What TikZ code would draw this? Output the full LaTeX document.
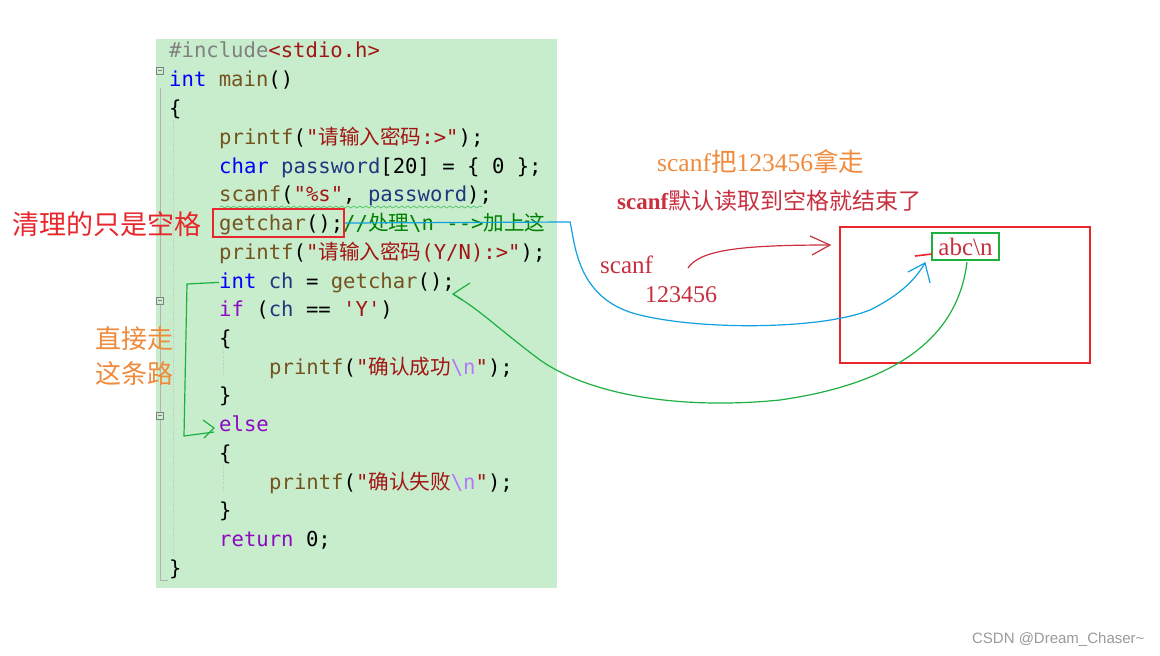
\documentclass[tikz,border=0pt]{standalone}
\usepackage{fontspec}
\setmainfont{Liberation Serif}
\newfontfamily\cjk{Noto Sans CJK SC}
\newfontfamily\mono{DejaVu Sans Mono}
\usetikzlibrary{decorations.pathmorphing,arrows.meta}
\definecolor{bg}{HTML}{C7EDCC}
\definecolor{kw}{HTML}{0000FF}
\definecolor{fn}{HTML}{74531F}
\definecolor{st}{HTML}{A31515}
\definecolor{vr}{HTML}{1F377F}
\definecolor{pk}{HTML}{8F08C4}
\definecolor{esc}{HTML}{B776FB}
\definecolor{cm}{HTML}{008000}
\definecolor{gy}{HTML}{808080}
\definecolor{rd}{HTML}{E8262B}
\definecolor{dr}{HTML}{C83040}
\definecolor{og}{HTML}{F08A3C}
\definecolor{gn}{HTML}{1DB040}
\definecolor{bl}{HTML}{10A0E0}
\newcommand\K[1]{\textcolor{kw}{#1}}
\newcommand\F[1]{\textcolor{fn}{#1}}
\newcommand\Sg[1]{\textcolor{st}{#1}}
\newcommand\V[1]{\textcolor{vr}{#1}}
\newcommand\Pk[1]{\textcolor{pk}{#1}}
\newcommand\E[1]{\textcolor{esc}{#1}}
\newcommand\Z[1]{{\cjk #1}}
\begin{document}
\begin{tikzpicture}[x=1pt,y=-1pt,
 code/.style={anchor=base west,inner sep=0pt,font=\mono\fontsize{20.6}{20}\selectfont},
 ann/.style={anchor=base west,inner sep=0pt},
 hand/.style={line width=1.2pt}]
\useasboundingbox (0,0) rectangle (1160,656);
\fill[white] (0,0) rectangle (1160,656);
\fill[bg] (156,39) rectangle (557,588);
\draw[gy!60,line width=0.8pt] (160,88) -- (160,580) -- (168,580);
\foreach \y in {79,309,424}{\fill[bg] (156.5,\y-12) rectangle (163.5,\y-5);\draw[gy,line width=0.6pt] (156.5,\y-12) rectangle (163.5,\y-5) (158,\y-8.5)--(162,\y-8.5);}
\draw[gy!50,dotted] (173,120) -- (173,555);
\draw[gy!50,dotted] (223,350) -- (223,376) (223,465) -- (223,492);
\node[code] (l1) at (169,57) {\textcolor{gy}{\#include}\Sg{<stdio.h>}};
\node[code] (l2) at (169,86) {\K{int} \F{main}()};
\node[code] (l3) at (169,115) {\{};
\node[code] (l4) at (219,144) {\F{printf}(\Sg{"\Z{请输入密码}:>"});};
\node[code] (l5) at (219,173) {\K{char} \V{password}[20] = \{ 0 \};};
\node[code] (l6) at (219,201) {\F{scanf}(\Sg{"\%s"}, \V{password});};
\node[code] (l7) at (219,230) {\F{getchar}();\textcolor{cm}{//\Z{处理}\textbackslash n -->\Z{加上这}}};
\node[code] (l8) at (219,259) {\F{printf}(\Sg{"\Z{请输入密码}(Y/N):>"});};
\node[code] (l9) at (219,288) {\K{int} \V{ch} = \F{getchar}();};
\node[code] (l10) at (219,316) {\Pk{if} (\V{ch} == \Sg{'Y'})};
\node[code] (l11) at (219,345) {\{};
\node[code] (l12) at (269,374) {\F{printf}(\Sg{"\Z{确认成功}}\E{\textbackslash n}\Sg{"});};
\node[code] (l13) at (219,402) {\}};
\node[code] (l14) at (219,431) {\Pk{else}};
\node[code] (l15) at (219,460) {\{};
\node[code] (l16) at (269,489) {\F{printf}(\Sg{"\Z{确认失败}}\E{\textbackslash n}\Sg{"});};
\node[code] (l17) at (219,517) {\}};
\node[code] (l18) at (219,546) {\Pk{return} 0;};
\node[code] (l19) at (169,575) {\}};
\draw[gn,decorate,decoration={snake,amplitude=1.2pt,segment length=6pt}] (220,207) -- (483,207);
\node[draw=rd,line width=1.6pt,minimum width=131pt,minimum height=28pt,inner sep=0pt] (gbox) at (278.5,223) {};
\node[ann,text=rd,font=\cjk\fontsize{27}{27}\selectfont] (qingli) at (12,234) {清理的只是空格};
\node[ann,text=og,font=\cjk\fontsize{26}{26}\selectfont] (zj1) at (95,348) {直接走};
\node[ann,text=og,font=\cjk\fontsize{26}{26}\selectfont] (zj2) at (95,383) {这条路};
\node[ann,text=og,font=\fontsize{25.5}{25}\selectfont] (t1) at (657,171) {scanf\Z{把}123456\Z{拿走}};
\node[ann,text=dr,font=\fontsize{23}{23}\selectfont] (t2) at (617,209) {\textbf{scanf}\Z{默认读取到空格就结束了}};
\node[ann,text=dr,font=\fontsize{25}{25}\selectfont] (sc) at (600,273) {scanf};
\node[ann,text=dr,font=\fontsize{24}{24}\selectfont] (num) at (645,302) {123456};
\node[draw=rd,line width=1.8pt,minimum width=250pt,minimum height=136pt,inner sep=0pt] (bigbox) at (965,295) {};
\node[draw=gn,line width=2pt,text=dr,font=\fontsize{25}{25}\selectfont,inner sep=0pt,minimum height=27pt,minimum width=67pt] (abc) at (965.5,246.5) {abc\textbackslash n};
\node[anchor=base east,text=gy!80,font=\fontspec{Liberation Sans}\fontsize{15}{15}\selectfont] (wm) at (1148,643) {CSDN @Dream\_Chaser\textasciitilde};
% red arrow
\coordinate (ra) at (830,245);
\draw[dr,hand] (688,268) .. controls (700,250) and (740,245) .. (ra);
\draw[dr,hand] (810,236) -- (ra) -- (812,255);
\draw[rd,line width=1.6pt] (915,256) -- (932,254);
% blue curve
\coordinate (ba) at (925,263);
\draw[bl,hand] (gbox.east) -- (570,222) .. controls (575,240) and (575,300) .. (640,315) .. controls (700,330) and (820,330) .. (870,310) .. controls (900,295) and (915,280) .. (ba);
\draw[bl,hand] (908,272) -- (ba) -- (930,283);
% green curve
\coordinate (ga) at (453,294);
\draw[gn,hand] (967,262) .. controls (960,320) and (920,380) .. (780,400) .. controls (680,410) and (590,395) .. (540,360) .. controls (500,330) and (480,310) .. (ga);
\draw[gn,hand] (470,283) -- (ga) -- (462,300);
% green bracket
\draw[gn,hand] (l9.west) -- (187,284) -- (184,436) -- (214,432);
\draw[gn,hand] (203,420) -- (214,428) -- (204,438);
\end{tikzpicture}
\end{document}
